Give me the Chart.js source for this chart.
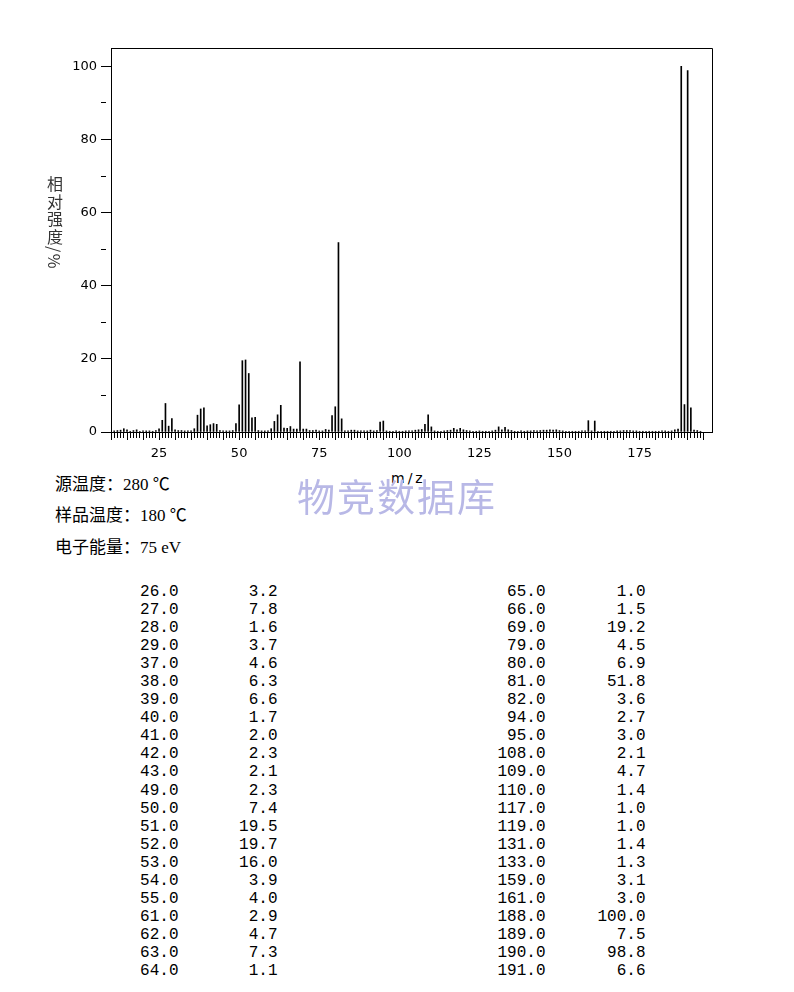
<!DOCTYPE html>
<html><head><meta charset="utf-8">
<script src="https://cdn.jsdelivr.net/npm/chart.js@4.4.1/dist/chart.umd.min.js"></script>
<style>
html,body{margin:0;padding:0;background:#fff;}
body{width:794px;height:992px;position:relative;overflow:hidden;}
#wrap{position:absolute;left:0;top:0;width:794px;height:470px;}
.ytitle{position:absolute;left:47px;top:176px;writing-mode:vertical-rl;font-family:"Noto Sans CJK SC";font-size:16px;line-height:16px;letter-spacing:1.5px;color:#333;}
.xtitle{position:absolute;left:391px;top:471px;font-family:"DejaVu Sans";font-size:14px;line-height:14px;letter-spacing:3px;color:#000;}
.wm{position:absolute;left:297px;top:476px;font-family:"Noto Sans CJK SC";font-size:38px;line-height:38px;letter-spacing:2px;color:#b8b8e6;white-space:nowrap;}
.info{position:absolute;left:55px;font-family:"Liberation Serif","Noto Sans CJK SC";font-size:17px;line-height:17px;white-space:pre;color:#000;}
.col{position:absolute;top:583px;font-family:"Liberation Mono";font-size:16px;line-height:18.05px;white-space:pre;text-align:right;color:#000;}
</style>
</head><body>
<div id="wrap"><canvas id="c" width="794" height="470"></canvas></div>
<div class="ytitle">相对强度/%</div>
<div class="xtitle">m/z</div>
<div class="info" style="top:476px">源温度：280 ℃</div>
<div class="info" style="top:507px">样品温度：180 ℃</div>
<div class="info" style="top:539px">电子能量：75 eV</div>
<div class="wm">物竞数据库</div>
<div class="col" id="c1" style="left:100px;width:78.5px"></div>
<div class="col" id="c2" style="left:200px;width:77.5px"></div>
<div class="col" id="c3" style="left:460px;width:85.5px"></div>
<div class="col" id="c4" style="left:560px;width:85.5px"></div>
<script>
// Listed peaks (table)
const tableMz = [26,27,28,29,37,38,39,40,41,42,43,49,50,51,52,53,54,55,61,62,63,64,
                 65,66,69,79,80,81,82,94,95,108,109,110,117,119,131,133,159,161,188,189,190,191];
const tableIntensity = [3.2,7.8,1.6,3.7,4.6,6.3,6.6,1.7,2.0,2.3,2.1,2.3,7.4,19.5,19.7,16.0,3.9,4.0,2.9,4.7,7.3,1.1,
                 1.0,1.5,19.2,4.5,6.9,51.8,3.6,2.7,3.0,2.1,4.7,1.4,1.0,1.0,1.4,1.3,3.1,3.0,100.0,7.5,98.8,6.6];
// Small peaks (<1 %)
const minorMz = [11,12,13,14,15,16,17,18,19,20,21,22,23,24,25,30,31,32,33,34,35,36,44,45,46,47,48,56,57,58,59,60,
  67,68,70,71,72,73,74,75,76,77,78,83,84,85,86,87,88,89,90,91,92,93,96,97,98,99,100,101,102,103,104,105,106,107,
  111,112,113,114,115,116,118,120,121,122,123,124,125,126,127,128,129,130,132,134,135,136,137,138,139,140,141,142,
  143,144,145,146,147,148,149,150,151,152,153,154,155,156,157,158,160,162,163,164,165,166,167,168,169,170,171,172,
  173,174,175,176,177,178,179,180,181,182,183,184,185,186,187,192,193,194];
const minorIntensity = [0.3,0.4,0.5,0.9,0.6,0.2,0.4,0.6,0.2,0.3,0.3,0.3,0.2,0.4,0.9,0.6,0.4,0.4,0.3,0.3,0.3,0.9,0.4,0.3,0.3,0.3,0.4,0.4,0.3,0.3,0.3,0.9,
  0.8,0.8,0.8,0.8,0.4,0.4,0.5,0.3,0.3,0.7,0.5,0.3,0.3,0.5,0.5,0.3,0.3,0.3,0.3,0.5,0.3,0.4,0.3,0.2,0.2,0.3,0.2,0.2,0.3,0.3,0.3,0.5,0.6,0.7,
  0.3,0.2,0.2,0.3,0.4,0.5,0.6,0.6,0.4,0.3,0.2,0.2,0.3,0.2,0.2,0.2,0.3,0.5,0.6,0.6,0.4,0.2,0.2,0.3,0.2,0.3,0.3,0.4,
  0.3,0.4,0.5,0.5,0.6,0.5,0.6,0.4,0.3,0.2,0.2,0.2,0.2,0.2,0.3,0.3,0.3,0.2,0.2,0.2,0.2,0.2,0.2,0.3,0.3,0.4,0.4,0.4,
  0.3,0.3,0.2,0.2,0.2,0.2,0.2,0.2,0.2,0.3,0.3,0.2,0.3,0.6,0.8,0.5,0.4,0.2];
const xTickLabels = [25,50,75,100,125,150,175];
const yTickLabels = [0,20,40,60,80,100];

// table text
const half = 22;
const fmt = v => v.toFixed(1);
document.getElementById('c1').textContent = tableMz.slice(0,half).map(fmt).join('\n');
document.getElementById('c2').textContent = tableIntensity.slice(0,half).map(fmt).join('\n');
document.getElementById('c3').textContent = tableMz.slice(half).map(fmt).join('\n');
document.getElementById('c4').textContent = tableIntensity.slice(half).map(fmt).join('\n');

const points = [];
tableMz.forEach((m,i)=>points.push({x:m,y:tableIntensity[i]}));
minorMz.forEach((m,i)=>points.push({x:m,y:minorIntensity[i]}));
points.sort((a,b)=>a.x-b.x);

const xTickValues=[]; for(let v=10; v<=195; v++) xTickValues.push(v);
const yTickValues=[]; for(let v=0; v<=100; v+=10) yTickValues.push(v);

const boxPlugin = { id:'box', afterDraw(chart){
  const {ctx, chartArea:a} = chart;
  ctx.save(); ctx.strokeStyle='#000'; ctx.lineWidth=1; ctx.setLineDash([]);
  ctx.beginPath();
  ctx.moveTo(Math.round(a.left)+0.5, Math.round(a.bottom));
  ctx.lineTo(Math.round(a.left)+0.5, Math.round(a.top)+0.5);
  ctx.lineTo(Math.round(a.right)+0.5, Math.round(a.top)+0.5);
  ctx.lineTo(Math.round(a.right)+0.5, Math.round(a.bottom)+0.5);
  ctx.stroke(); ctx.restore();
}};

new Chart(document.getElementById('c'), {
  type:'bar',
  data:{datasets:[{data:points, backgroundColor:'#000', borderWidth:0, barThickness:1, grouped:false}]},
  options:{
    responsive:false, animation:false, devicePixelRatio:1,
    layout:{padding:{top:48,right:82,left:0,bottom:0}},
    plugins:{legend:{display:false}, tooltip:{enabled:false}},
    scales:{
      x:{type:'linear', min:10, max:197.6, offset:false,
        afterFit(s){ s.height = 38; },
        afterBuildTicks(s){ s.ticks = xTickValues.map(v=>({value:v})); },
        grid:{offset:false, drawOnChartArea:false, drawTicks:true, tickLength:8, color:'#000', lineWidth:1,
          tickBorderDash: c => (c.tick && c.tick.value % 5 === 0) ? [] : [5,20]},
        border:{display:true, color:'#000', width:1},
        ticks:{autoSkip:false, maxRotation:0, minRotation:0, padding:6, color:'#000',
          font:{family:'DejaVu Sans', size:13},
          callback:(v)=> xTickLabels.includes(v) ? String(v) : ''}
      },
      y:{type:'linear', min:0, max:105,
        afterFit(s){ s.width = 111; },
        afterBuildTicks(s){ s.ticks = yTickValues.map(v=>({value:v})); },
        grid:{drawOnChartArea:false, drawTicks:true, tickLength:10, color:'#000', lineWidth:1,
          tickBorderDash: c => (c.tick && c.tick.value % 20 === 0) ? [] : [5,20]},
        border:{display:true, color:'#000', width:1},
        ticks:{autoSkip:false, padding:4, color:'#000', font:{family:'DejaVu Sans', size:13},
          callback:(v)=> yTickLabels.includes(v) ? String(v) : ''}
      }
    }
  },
  plugins:[boxPlugin]
});
</script>
</body></html>
